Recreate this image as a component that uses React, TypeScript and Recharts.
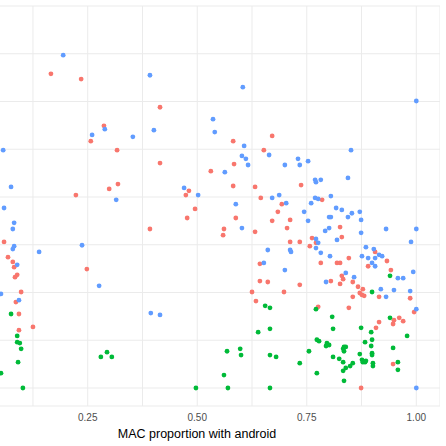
import React from 'react';
import { ScatterChart, Scatter, XAxis, YAxis, CartesianGrid } from 'recharts';

// Values: [MAC proportion with android, y value]
const redPoints: [number, number][] = [
  [0.166, 6.58], [0.235, 6.47], [0.415, 5.88], [0.287, 5.49], [0.257, 5.17], [0.317, 4.98],
  [0.415, 4.71], [0.531, 4.54], [0.319, 4.27], [0.299, 4.17], [0.223, 4.04], [0.481, 4.13],
  [0.474, 4.04], [0.495, 3.75], [0.477, 3.56], [0.582, 5.17], [0.671, 5.28], [0.652, 4.98],
  [0.584, 4.69], [0.582, 4.23], [0.632, 4.21], [0.737, 4.25], [0.645, 3.98], [0.693, 3.85],
  [0.684, 3.69], [0.785, 3.94], [0.588, 3.56], [0.671, 3.5], [0.712, 3.52], [0.561, 3.33],
  [0.559, 3.2], [0.392, 3.33], [0.632, 3.27], [0.705, 3.35], [0.826, 3.37], [0.83, 3.16],
  [0.712, 3.06], [0.734, 3.06], [0.762, 3.14], [0.771, 3.04], [0.757, 2.97], [0.906, 2.85],
  [0.846, 2.72], [0.933, 2.66], [0.819, 2.62], [0.826, 2.62], [0.782, 2.62], [0.643, 2.6],
  [0.89, 2.55], [0.942, 2.47], [0.83, 2.35], [0.833, 2.28], [0.855, 2.22], [0.867, 2.12],
  [0.878, 2.07], [0.643, 2.24], [0.661, 2.22], [0.734, 2.16], [0.805, 2.24], [0.826, 2.18],
  [0.625, 2.01], [0.698, 2.01], [0.855, 1.91], [0.871, 1.99], [0.876, 1.95], [0.881, 1.93],
  [0.915, 1.91], [0.986, 1.88], [0.846, 1.68], [0.995, 1.59], [0.634, 1.82], [0.776, 1.7],
  [0.908, 1.26], [0.915, 1.38], [0.949, 1.42], [0.961, 1.47], [0.97, 1.4], [0.947, 1.34],
  [0.947, 0.5], [0.874, 0.0],
  [0.059, 3.06], [0.068, 2.74], [0.079, 2.64], [0.082, 2.53], [0.089, 2.37], [0.084, 2.32],
  [0.248, 2.49], [0.098, 2.01], [0.086, 1.8], [0.093, 1.55], [0.125, 1.28], [0.093, 1.21],
];

const bluePoints: [number, number][] = [
  [0.194, 6.97], [0.392, 6.55], [0.536, 5.63], [0.54, 5.36], [0.289, 5.42], [0.26, 5.3],
  [0.353, 5.26], [0.401, 5.4], [0.057, 4.98], [0.075, 4.21], [0.315, 3.94], [0.47, 4.19],
  [0.502, 4.04], [0.059, 3.77], [0.082, 3.46], [0.079, 3.33], [0.604, 6.3], [1.0, 6.01],
  [0.607, 5.07], [0.602, 4.86], [0.611, 4.8], [0.664, 4.88], [0.851, 4.98], [0.616, 4.67],
  [0.563, 4.52], [0.7, 4.67], [0.73, 4.8], [0.734, 4.67], [0.753, 4.75], [0.769, 4.36],
  [0.771, 4.31], [0.782, 4.36], [0.844, 4.4], [0.588, 3.85], [0.671, 3.98], [0.687, 4.04],
  [0.703, 3.87], [0.769, 3.98], [0.776, 3.96], [0.76, 3.87], [0.805, 4.02], [0.744, 3.69],
  [0.817, 3.77], [0.83, 3.73], [0.853, 3.66], [0.871, 3.69], [0.801, 3.58], [0.805, 3.58],
  [0.844, 3.58], [0.753, 3.5], [0.874, 3.52], [0.874, 3.25], [0.931, 3.33], [1.0, 3.33],
  [0.988, 3.06], [0.819, 3.1], [0.792, 3.29], [0.801, 3.35], [0.885, 2.95], [0.903, 2.91],
  [0.876, 2.76], [0.89, 2.72], [0.906, 2.72], [0.915, 2.79], [0.922, 2.76], [0.602, 3.35],
  [0.771, 3.12], [0.776, 3.04], [0.771, 2.93], [0.782, 2.83], [0.803, 2.76], [0.661, 2.89],
  [0.712, 2.89], [0.714, 2.85], [0.652, 2.62], [0.7, 2.47], [0.899, 2.62], [0.906, 2.55],
  [0.839, 2.41], [0.858, 2.32], [0.794, 2.22], [0.958, 2.3], [0.97, 2.3], [0.993, 2.43],
  [0.919, 2.07], [0.931, 1.91], [0.949, 2.05], [0.986, 2.03], [1.0, 1.65], [1.0, 0.0],
  [0.082, 2.97], [0.079, 2.91], [0.139, 2.85], [0.237, 2.99], [0.089, 2.58], [0.276, 2.14],
  [0.052, 1.97], [0.093, 1.84], [0.394, 1.57], [0.415, 1.53],
];

const greenPoints: [number, number][] = [
  [0.94, 2.35], [0.899, 2.01], [0.771, 1.65], [0.655, 1.72], [0.666, 1.68], [0.808, 1.49],
  [0.94, 1.47], [0.81, 1.24], [0.639, 1.17], [0.666, 1.24], [0.874, 1.26], [0.897, 1.17],
  [0.979, 1.09], [0.773, 1.01], [0.778, 0.98], [0.796, 0.94], [0.801, 0.9], [0.794, 0.88],
  [0.755, 0.77], [0.835, 0.86], [0.839, 0.86], [0.833, 0.82], [0.835, 0.77], [0.883, 0.96],
  [0.899, 1.01], [0.897, 0.88], [0.947, 0.84], [0.899, 0.73], [0.899, 0.69], [0.871, 0.71],
  [0.81, 0.65], [0.824, 0.61], [0.833, 0.54], [0.876, 0.59], [0.883, 0.54], [0.878, 0.54],
  [0.885, 0.57], [0.901, 0.52], [0.901, 0.46], [0.855, 0.52], [0.849, 0.46], [0.839, 0.42],
  [0.833, 0.36], [0.958, 0.54], [0.958, 0.38], [0.734, 0.52], [0.773, 0.31], [0.835, 0.15],
  [0.666, 0.0], [0.568, 0.77], [0.598, 0.82], [0.6, 0.69], [0.666, 0.69], [0.68, 0.65],
  [0.561, 0.27], [0.57, 0.0],
  [0.075, 1.55], [0.089, 1.09], [0.089, 0.96], [0.095, 0.94], [0.098, 0.82], [0.091, 0.54],
  [0.052, 0.31], [0.102, 0.0], [0.28, 0.65], [0.294, 0.75], [0.305, 0.65], [0.497, 0.0],
];

const xGridValues = [0, 0.125, 0.25, 0.375, 0.5, 0.625, 0.75, 0.875, 1.0];
const xTickLabels: Record<string, string> = { '0.25': '0.25', '0.5': '0.50', '0.75': '0.75', '1': '1.00' };
const yGridValues = [0, 1, 2, 3, 4, 5, 6, 7, 8];
const xLabel = 'MAC proportion with android';

const X_DOMAIN: [number, number] = [-0.05524, 1.0541];
const Y_DOMAIN: [number, number] = [-0.377, 8];

const RED = '#F8766D';
const GREEN = '#00BA38';
const BLUE = '#619CFF';

const rows = (pts: [number, number][]) => pts.map(([x, y]) => ({ x, y }));

const dot = (color: string) => (props: any) => (
  <circle cx={props.cx} cy={props.cy} r={2.4} fill={color} />
);

export default function App() {
  return (
    <div
      style={{
        position: 'absolute',
        left: 0,
        top: 0,
        width: 446,
        height: 446,
        overflow: 'hidden',
        background: '#fff',
        fontFamily: '"Liberation Sans", Arial, sans-serif',
      }}
    >
      <div style={{ position: 'absolute', left: -46, top: 0 }}>
        <ScatterChart width={486} height={446} margin={{ top: 6, right: 0, bottom: 0, left: 0 }}>
          <CartesianGrid stroke="#EBEBEB" strokeWidth={1} />
          <XAxis
            type="number"
            dataKey="x"
            domain={X_DOMAIN}
            ticks={xGridValues}
            interval={0}
            allowDataOverflow
            axisLine={false}
            tickLine={false}
            tickSize={6}
            tickMargin={2}
            height={40}
            tickFormatter={(v: number) => xTickLabels[String(v)] ?? ''}
            tick={{ fontSize: 10, fill: '#4D4D4D', fontFamily: '"Liberation Sans", Arial, sans-serif' }}
            label={{
              value: xLabel,
              position: 'insideBottom',
              offset: 8,
              fill: '#000',
              fontSize: 12.5,
              fontFamily: '"Liberation Sans", Arial, sans-serif',
            }}
          />
          <YAxis type="number" dataKey="y" domain={Y_DOMAIN} ticks={yGridValues} hide allowDataOverflow />
          <Scatter data={rows(redPoints)} fill={RED} shape={dot(RED)} isAnimationActive={false} />
          <Scatter data={rows(bluePoints)} fill={BLUE} shape={dot(BLUE)} isAnimationActive={false} />
          <Scatter data={rows(greenPoints)} fill={GREEN} shape={dot(GREEN)} isAnimationActive={false} />
        </ScatterChart>
      </div>
    </div>
  );
}
